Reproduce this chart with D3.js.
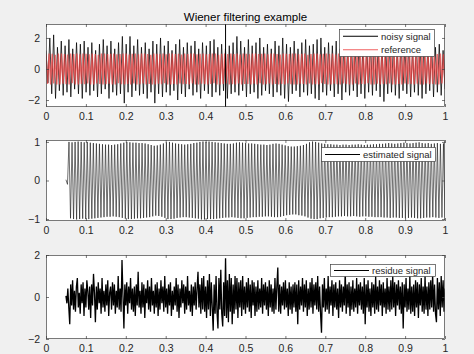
<!DOCTYPE html>
<html><head><meta charset="utf-8">
<script src="https://cdn.jsdelivr.net/npm/d3@7"></script>
<style>html,body{margin:0;padding:0;background:#f0f0f0;}svg{display:block;}</style>
</head><body>
<svg id="c" width="474" height="354"></svg>
<script>
// ---------------- DATA ----------------
const titleText = "Wiener filtering example";
const xTicks = [0,0.1,0.2,0.3,0.4,0.5,0.6,0.7,0.8,0.9,1];
const xTickLabels = ["0","0.1","0.2","0.3","0.4","0.5","0.6","0.7","0.8","0.9","1"];
const yTicks1 = [-2,0,2], yTicks2 = [-1,0,1], yTicks3 = [-2,0,2];
const markerX = 0.45;
const legend1 = ["noisy signal","reference"], legend2 = ["estimated signal"], legend3 = ["residue signal"];

// noisy signal: local maxima / minima, t from 0 to 1
const noisyHi = [1.2,2.0,2.2,1.4,1.8,1.5,1.9,1.3,1.7,1.6,
 1.8,1.4,1.7,1.2,1.6,1.9,1.5,1.8,1.3,1.7,
 2.1,1.6,2.1,1.5,1.9,1.4,1.7,1.3,1.8,1.6,
 2.0,1.5,1.8,1.2,1.6,1.9,1.4,1.7,1.5,1.8,
 1.3,1.7,1.5,1.8,1.9,1.4,1.6,1.3,1.5,1.7,
 2.1,1.8,1.4,1.9,1.5,1.7,2.0,1.4,1.6,1.3,
 1.8,1.5,2.0,1.6,1.4,1.8,1.3,1.7,1.9,1.5,
 1.6,1.9,2.0,1.4,1.7,1.5,1.8,1.3,1.6,1.4,
 1.7,1.5,1.9,1.4,1.6,1.8,2.0,1.5,1.7,1.3,
 1.6,1.8,1.4,1.9,1.5,1.7,1.3,1.8,1.6,1.9,
 1.5,1.7,1.4,1.6,1.2];
const noisyLo = [-0.9,-1.6,-1.9,-1.4,-1.7,-1.5,-1.8,-1.3,-1.6,-1.9,
 -1.5,-1.7,-1.4,-1.8,-1.6,-1.3,-1.9,-1.5,-1.7,-1.6,
 -2.2,-1.5,-1.8,-1.4,-1.7,-1.6,-1.9,-1.5,-2.2,-1.6,
 -1.8,-1.5,-1.7,-1.4,-2.0,-1.6,-1.8,-1.3,-1.7,-1.5,
 -1.9,-1.4,-1.6,-1.8,-1.5,-1.7,-1.4,-1.9,-1.6,-1.5,
 -1.7,-1.4,-1.8,-1.6,-1.5,-1.9,-1.7,-1.4,-1.6,-1.8,
 -1.5,-1.7,-1.9,-2.1,-1.6,-1.4,-1.8,-1.5,-1.7,-1.6,
 -1.9,-2.0,-1.5,-1.7,-1.4,-1.8,-1.6,-2.0,-1.5,-1.7,
 -1.4,-1.8,-1.6,-1.9,-1.5,-1.7,-1.4,-1.8,-2.1,-1.6,
 -1.5,-1.7,-1.9,-1.4,-1.6,-1.8,-1.5,-1.7,-1.9,-1.6,
 -1.4,-1.8,-1.5,-1.7,-1.3];

// reference: maxima / minima, t from 0 to 1
const refHi = [0.95,1.0,0.98,0.92,0.99,1.0,0.96,0.93,1.0,0.97,
 0.99,0.94,1.0,0.98,0.95,1.0,0.97,0.92,0.99,1.0,
 0.96,0.98,1.0,0.94,0.97,1.0,0.99,0.93,0.98,1.0,
 0.95,0.99,1.0,0.96,0.92,1.0,0.98,0.97,1.0,0.94,
 0.99,1.0,0.96,0.98,0.93,1.0,0.97,0.99,1.0,0.95,
 0.98,1.0,0.94,0.97,1.0,0.99,0.92,0.98,1.0,0.96,
 1.0,0.97,0.99,0.93,1.0,0.98,0.95,1.0,0.99,0.96,
 0.98,1.0,0.94,0.99,1.0,0.97,0.93,1.0,0.98,0.96,
 1.0,0.99,0.95,0.98,1.0,0.92,0.97,1.0,0.99,0.94,
 0.98,1.0,0.96,0.99,0.93,1.0,0.97,0.98,1.0,0.95,
 0.99,1.0,0.94,0.97,1.0,0.98,0.92,0.99,1.0,0.96,
 0.97,1.0,0.98,0.93,0.99,1.0,0.95,0.98,1.0,0.97,
 0.94,1.0,0.99,0.96,0.98,1.0,0.93,0.97,1.0,0.95];
const refLo = [-0.97,-1.0,-0.93,-0.99,-1.0,-0.95,-0.98,-1.0,-0.92,-0.99,
 -1.0,-0.96,-0.98,-0.94,-1.0,-0.99,-0.93,-0.97,-1.0,-0.98,
 -0.95,-1.0,-0.99,-0.92,-0.98,-1.0,-0.96,-0.99,-0.94,-1.0,
 -0.98,-0.93,-1.0,-0.97,-0.99,-1.0,-0.95,-0.98,-0.92,-1.0,
 -0.99,-0.96,-1.0,-0.94,-0.98,-0.97,-1.0,-0.93,-0.99,-1.0,
 -0.95,-0.98,-1.0,-0.96,-0.92,-0.99,-1.0,-0.97,-0.94,-1.0,
 -0.98,-0.99,-0.93,-1.0,-0.96,-0.97,-1.0,-0.95,-0.99,-0.92,
 -1.0,-0.98,-0.94,-1.0,-0.97,-0.99,-0.96,-1.0,-0.93,-0.98,
 -0.99,-1.0,-0.95,-0.97,-1.0,-0.94,-0.99,-0.98,-1.0,-0.92,
 -0.97,-1.0,-0.99,-0.95,-0.98,-1.0,-0.93,-0.96,-1.0,-0.99,
 -0.94,-1.0,-0.97,-0.98,-0.92,-1.0,-0.99,-0.95,-1.0,-0.97,
 -0.98,-0.93,-1.0,-0.99,-0.96,-1.0,-0.94,-0.98,-0.97,-1.0,
 -0.95,-0.99,-1.0,-0.93,-0.98,-0.96,-1.0,-0.99,-0.94,-0.97];

// estimated signal: start values then maxima / minima, t from 0.05 to 1
const estStart = [0.02,-0.1];
const estPeaks = [1.0,0.99,1.0,1.01,1.0,0.99,1.0,0.98,0.97,
 0.96,0.95,0.94,0.93,0.93,0.92,0.93,0.94,
 0.96,0.98,1.0,0.99,0.98,0.98,0.97,0.97,0.96,
 0.94,0.92,0.9,0.91,0.93,0.96,0.99,
 1.0,0.98,0.96,0.95,0.94,0.93,0.94,0.95,
 0.97,0.98,1.0,1.01,1.0,1.01,1.0,0.99,0.98,0.97,
 0.96,0.95,0.95,0.96,0.98,0.99,0.98,0.97,0.96,0.96,
 0.95,0.94,0.93,0.93,0.92,0.93,0.95,0.96,0.95,0.93,
 0.91,0.89,0.88,0.88,0.89,0.9,0.92,0.95,
 0.99,1.01,1.0,0.98,0.96,0.95,0.94,0.94,
 0.93,0.93,0.92,0.93,0.93,0.92,0.93,0.93,0.94,0.93,0.92,0.93,0.93,0.94,
 0.94,0.95,0.95,0.96,0.97,0.96,0.95,0.96,0.97,0.98,0.97,0.96,
 0.97,0.98,0.99,0.97,0.96,0.97,0.95,0.96,0.97,0.95,0.96];
const estTroughs = [-0.98,-1.0,-1.01,-1.0,-0.99,-1.0,-1.0,-0.99,-0.98,
 -0.97,-0.96,-0.95,-0.94,-0.94,-0.93,-0.94,-0.95,
 -0.97,-0.99,-1.0,-1.0,-0.99,-0.98,-0.98,-0.97,-0.96,
 -0.95,-0.93,-0.91,-0.92,-0.94,-0.97,-1.0,
 -1.0,-0.99,-0.97,-0.96,-0.95,-0.95,-0.96,-0.97,
 -0.98,-0.99,-1.01,-1.01,-1.0,-1.0,-1.0,-0.99,-0.98,-0.97,
 -0.96,-0.96,-0.95,-0.96,-0.97,-0.98,-0.98,-0.97,-0.96,-0.95,
 -0.95,-0.94,-0.94,-0.93,-0.93,-0.94,-0.95,-0.95,-0.94,-0.92,
 -0.9,-0.89,-0.88,-0.88,-0.9,-0.91,-0.93,-0.96,
 -0.99,-1.0,-1.0,-0.98,-0.97,-0.96,-0.95,-0.95,
 -0.94,-0.93,-0.93,-0.92,-0.93,-0.93,-0.92,-0.93,-0.94,-0.93,-0.93,-0.94,-0.94,-0.95,
 -0.95,-0.95,-0.96,-0.96,-0.97,-0.96,-0.96,-0.97,-0.97,-0.98,-0.97,-0.96,
 -0.97,-0.98,-0.98,-0.97,-0.96,-0.96,-0.95,-0.96,-0.97,-0.96,-0.96];

// residue signal, t from 0.05 to 1
const residue = [0.05,-0.3,0.4,-0.5,-1.3,0.6,-0.4,0.8,-0.6,0.3,
 -0.7,0.5,0.9,-0.5,0.2,-0.8,0.6,-0.3,0.7,-0.9,
 0.4,-0.5,0.8,0.3,-0.6,0.5,-1.0,0.6,-0.4,1.1,
 0.2,-1.2,0.5,-0.6,0.7,-0.3,0.4,-0.8,0.9,-0.5,
 0.3,-0.7,0.6,-0.4,0.8,-0.9,0.2,0.5,-0.6,0.7,
 -0.4,0.6,-0.8,0.3,-0.5,1.0,-0.6,0.4,-0.7,1.76,
 0.1,-1.5,0.6,-0.4,0.7,-0.8,0.5,-0.3,0.9,-0.6,
 0.4,-0.7,0.5,-0.9,0.6,-0.4,1.2,-0.5,0.3,-0.8,
 0.7,-0.5,0.6,-1.0,0.4,-0.3,0.8,-0.6,0.5,-0.7,
 0.9,-0.4,0.3,-0.8,0.6,-0.5,0.7,-0.9,0.4,-0.6,
 0.8,-0.3,0.5,-0.7,1.0,-0.5,0.4,-0.8,0.6,-0.4,
 0.7,-0.9,0.3,-0.6,0.5,-0.4,0.9,-0.7,0.6,-1.0,
 0.4,-0.5,0.8,-0.3,0.6,-0.8,0.5,-0.6,1.0,-0.4,
 0.3,-0.7,0.6,-0.9,0.5,-0.4,0.7,-0.6,0.4,1.2,
 -0.5,0.6,-0.8,0.9,-0.6,1.0,-0.7,0.5,-1.0,0.8,
 -0.6,1.1,-0.9,0.7,-0.5,-1.6,0.6,-0.8,1.0,-0.7,
 -1.5,0.9,-0.6,1.3,-0.8,-1.4,0.7,-0.9,1.85,-1.0,
 0.8,-1.2,1.1,-0.7,0.9,-1.3,0.6,-0.8,1.0,-0.6,
 0.9,-1.0,0.7,-0.5,0.8,-0.9,1.0,-0.6,0.5,-0.8,
 0.7,-0.5,0.9,-0.7,0.6,-1.0,0.8,-0.4,0.7,-0.9,
 0.5,-0.7,0.8,-0.6,0.4,-0.5,0.9,-0.8,0.6,-0.4,
 0.7,-0.6,0.5,-0.9,0.8,-0.5,0.6,-0.7,0.4,-0.8,
 0.9,-0.6,0.5,1.4,-0.7,0.6,-0.8,0.5,-0.4,0.7,
 -0.6,0.8,-0.5,0.4,-0.9,0.7,-0.6,0.5,-0.8,0.6,
 -0.5,0.7,-0.7,0.6,-1.3,0.8,-0.6,0.5,-0.4,0.9,
 -0.7,0.6,-0.5,0.8,-0.9,0.4,-0.6,0.7,-0.5,0.9,
 -0.8,0.6,-0.4,0.7,-0.6,1.0,-0.7,0.5,-0.8,-1.7,
 0.6,-0.5,0.9,-0.7,0.4,-0.6,1.0,-0.8,0.5,-0.4,
 0.8,-0.9,0.6,-0.5,0.7,-0.6,0.4,-1.0,0.8,-0.5,
 0.6,-0.7,0.5,-0.4,1.2,-0.8,0.6,-0.5,0.7,-0.9,
 0.5,-0.6,0.8,-0.7,0.4,-0.5,0.9,-0.8,0.6,-0.4,
 0.7,-0.6,0.5,-0.8,0.9,-1.3,0.6,-0.5,0.8,-0.7,
 0.4,-0.9,0.7,-0.5,0.6,-0.8,1.0,-0.6,0.5,-0.7,
 0.8,-0.4,0.6,-0.9,0.7,-0.5,0.4,-0.8,0.9,-0.6,
 0.5,-0.7,0.8,-0.6,1.0,-0.5,0.7,-0.9,0.6,-0.4,
 0.8,-0.6,0.5,-0.8,0.7,-1.5,0.6,-0.5,0.9,-0.7,
 0.4,-0.6,1.0,-0.8,0.5,-0.7,0.6,-0.9,0.8,-0.5,
 0.7,-1.0,0.6,-0.4,0.9,-0.7,0.5,-0.8,1.0,-0.6,
 0.5,-0.9,0.7,-0.6,0.8,-0.5,1.1,-0.7,0.6,-0.8,
 -1.2,0.9,-0.6,0.7,-0.9,1.0,-0.5,0.8,-0.7,0.4];

// ---------------- DRAW ----------------
const FONT = "'Liberation Sans', Arial, Helvetica, sans-serif";
const AX = "#404040";
const svg = d3.select("#c");
svg.append("rect").attr("width",474).attr("height",354).attr("fill","#f0f0f0");

function interleave(a,b){const o=[];for(let i=0;i<a.length;i++){o.push(a[i]);if(i<b.length)o.push(b[i]);}return o;}
function series(vals,t0,t1){const s=d3.scaleLinear().domain([0,vals.length-1]).range([t0,t1]);return vals.map((v,i)=>[s(i),v]);}

const L=46,R=445;
const x = d3.scaleLinear().domain([0,1]).range([L,R]);

function makeAxes(id,top,bottom,ydom,yt){
  const y=d3.scaleLinear().domain(ydom).range([bottom,top]);
  const g=svg.append("g");
  g.append("rect").attr("x",L).attr("y",top).attr("width",R-L).attr("height",bottom-top).attr("fill","#fff");
  svg.append("clipPath").attr("id",id).append("rect").attr("x",L).attr("y",top).attr("width",R-L).attr("height",bottom-top);
  const plot=g.append("g").attr("clip-path",`url(#${id})`);
  const frame=svg.append("g");
  return {y,g,plot,frame,top,bottom,yt};
}
function finishAxes(a){
  const {y,frame,top,bottom,yt}=a;
  frame.append("rect").attr("x",L+0.5).attr("y",top+0.5).attr("width",R-L-1).attr("height",bottom-top-1)
    .attr("fill","none").attr("stroke",AX).attr("stroke-width",0.7);
  const bx=d3.axisBottom(x).tickValues(xTicks).tickSize(-3).tickFormat((d,i)=>xTickLabels[i]).tickPadding(6);
  const tx=d3.axisTop(x).tickValues(xTicks).tickSize(-3).tickFormat("");
  const ly=d3.axisLeft(y).tickValues(yt).tickSize(-3).tickFormat(d3.format("d")).tickPadding(6);
  const ry=d3.axisRight(y).tickValues(yt).tickSize(-3).tickFormat("");
  [[bx,`translate(0,${bottom})`],[tx,`translate(0,${top})`],[ly,`translate(${L},0)`],[ry,`translate(${R},0)`]].forEach(([ax,tr])=>{
    const gg=frame.append("g").attr("transform",tr).call(ax);
    gg.select(".domain").remove();
    gg.selectAll("line").attr("stroke",AX).attr("stroke-width",0.7);
    gg.selectAll("text").attr("fill","#262626").style("font-family",FONT).style("font-size","10.5px");
  });
}
function legend(x0,y0,w,h,items){
  const g=svg.append("g");
  g.append("rect").attr("x",x0+0.5).attr("y",y0+0.5).attr("width",w).attr("height",h).attr("fill","#fff").attr("stroke",AX).attr("stroke-width",0.7);
  items.forEach((it,i)=>{
    const yy=y0+h/(items.length)*(i+0.5)+0.5;
    g.append("line").attr("x1",x0+4).attr("x2",x0+39).attr("y1",yy).attr("y2",yy).attr("stroke",it.c).attr("stroke-width",1);
    g.append("text").attr("x",x0+42).attr("y",yy).attr("dy","0.35em").text(it.t)
      .style("font-family",FONT).style("font-size","9.5px").attr("fill","#262626");
  });
}

// Subplot 1
const a1=makeAxes("c1",24,107,[-2.45,2.9],yTicks1);
const line1=d3.line().x(d=>x(d[0])).y(d=>a1.y(d[1]));
a1.plot.append("path").datum(series(interleave(noisyHi,noisyLo),0,1)).attr("d",line1)
  .attr("fill","none").attr("stroke","#000").attr("stroke-width",0.75);
a1.plot.append("path").datum(series(interleave(refHi,refLo),0,1)).attr("d",line1)
  .attr("fill","none").attr("stroke","#f04040").attr("stroke-width",1.4).attr("stroke-opacity",0.72);
a1.plot.append("line").attr("x1",x(markerX)).attr("x2",x(markerX)).attr("y1",a1.top).attr("y2",a1.bottom).attr("stroke","#000").attr("stroke-width",1);
finishAxes(a1);
legend(339,29,95,27,[{t:legend1[0],c:"#000"},{t:legend1[1],c:"#f06060"}]);

// Subplot 2
const a2=makeAxes("c2",140,221,[-1.05,1.05],yTicks2);
const line2=d3.line().x(d=>x(d[0])).y(d=>a2.y(d[1]));
a2.plot.append("path").datum(series(estStart.concat(interleave(estPeaks,estTroughs)),0.05,1)).attr("d",line2)
  .attr("fill","none").attr("stroke","#111").attr("stroke-width",0.6);
finishAxes(a2);
legend(321,147,114,14,[{t:legend2[0],c:"#000"}]);

// Subplot 3
const a3=makeAxes("c3",255,339,[-2,2],yTicks3);
const line3=d3.line().x(d=>x(d[0])).y(d=>a3.y(d[1]));
a3.plot.append("path").datum(series(residue,0.05,1)).attr("d",line3)
  .attr("fill","none").attr("stroke","#000").attr("stroke-width",1.3);
finishAxes(a3);
legend(330,264,105,12,[{t:legend3[0],c:"#000"}]);

// Title
svg.append("text").attr("x",(L+R)/2).attr("y",20.5).attr("text-anchor","middle").text(titleText)
  .style("font-family",FONT).style("font-size","11.5px").attr("fill","#000");
</script>
</body></html>
